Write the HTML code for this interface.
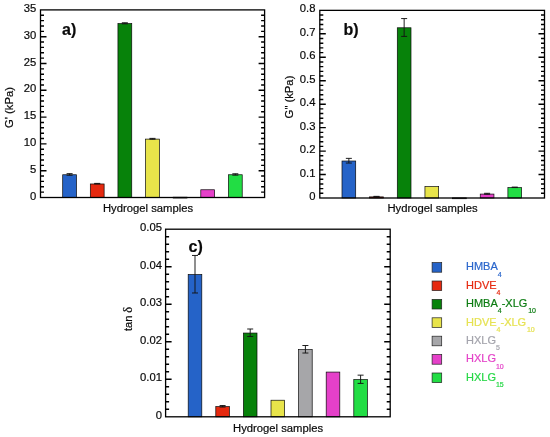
<!DOCTYPE html>
<html lang="en">
<head>
<meta charset="utf-8">
<title>Hydrogel samples</title>
<style>
html,body{margin:0;padding:0;background:#fff;}
body{width:550px;height:437px;overflow:hidden;}
svg{display:block;}
svg{font-family:"Liberation Sans", Arial, sans-serif;font-size:11.25px;}
text{fill:#0a0a0a;stroke:#0a0a0a;stroke-width:0.2px;}
</style>
</head>
<body>
<svg width="550" height="437" viewBox="0 0 550 437">
<rect width="550" height="437" fill="#fff"/>
<g>
<rect x="62.7" y="174.75" width="13.8" height="22.75" fill="#2563c8" stroke="#0a0a0a" stroke-width="0.7"/>
<path d="M69.6 173.65V175.26M66.6 173.65H72.6M66.6 175.26H72.6" stroke="#141414" stroke-width="0.95" fill="none"/>
<rect x="90.32" y="183.97" width="13.8" height="13.53" fill="#e5290f" stroke="#0a0a0a" stroke-width="0.7"/>
<path d="M97.22 183.4V183.94M94.22 183.4H100.22M94.22 183.94H100.22" stroke="#141414" stroke-width="0.95" fill="none"/>
<rect x="117.94" y="23.6" width="13.8" height="173.9" fill="#07820a" stroke="#0a0a0a" stroke-width="0.7"/>
<path d="M124.84 22.76V23.84M121.84 22.76H127.84M121.84 23.84H127.84" stroke="#141414" stroke-width="0.95" fill="none"/>
<rect x="145.56" y="139.11" width="13.8" height="58.39" fill="#e8e44a" stroke="#0a0a0a" stroke-width="0.7"/>
<path d="M152.46 138.38V139.24M149.46 138.38H155.46M149.46 139.24H155.46" stroke="#141414" stroke-width="0.95" fill="none"/>
<rect x="173.18" y="197.16" width="13.8" height="0.9" fill="#a6a6a9" stroke="#0a0a0a" stroke-width="0.7"/>
<rect x="200.8" y="189.76" width="13.8" height="7.74" fill="#e540c9" stroke="#0a0a0a" stroke-width="0.7"/>
<rect x="228.42" y="174.75" width="13.8" height="22.75" fill="#22dd44" stroke="#0a0a0a" stroke-width="0.7"/>
<path d="M235.32 173.76V175.15M232.32 173.76H238.32M232.32 175.15H238.32" stroke="#141414" stroke-width="0.95" fill="none"/>
<rect x="40.5" y="9.9" width="224.1" height="187.6" fill="none" stroke="#000" stroke-width="1.3"/>
<path d="M40.5 192.14h3.5M264.6 192.14h-3.5M40.5 186.78h3.5M264.6 186.78h-3.5M40.5 181.42h3.5M264.6 181.42h-3.5M40.5 176.06h3.5M264.6 176.06h-3.5M40.5 170.7h6M264.6 170.7h-6M40.5 165.34h3.5M264.6 165.34h-3.5M40.5 159.98h3.5M264.6 159.98h-3.5M40.5 154.62h3.5M264.6 154.62h-3.5M40.5 149.26h3.5M264.6 149.26h-3.5M40.5 143.9h6M264.6 143.9h-6M40.5 138.54h3.5M264.6 138.54h-3.5M40.5 133.18h3.5M264.6 133.18h-3.5M40.5 127.82h3.5M264.6 127.82h-3.5M40.5 122.46h3.5M264.6 122.46h-3.5M40.5 117.1h6M264.6 117.1h-6M40.5 111.74h3.5M264.6 111.74h-3.5M40.5 106.38h3.5M264.6 106.38h-3.5M40.5 101.02h3.5M264.6 101.02h-3.5M40.5 95.66h3.5M264.6 95.66h-3.5M40.5 90.3h6M264.6 90.3h-6M40.5 84.94h3.5M264.6 84.94h-3.5M40.5 79.58h3.5M264.6 79.58h-3.5M40.5 74.22h3.5M264.6 74.22h-3.5M40.5 68.86h3.5M264.6 68.86h-3.5M40.5 63.5h6M264.6 63.5h-6M40.5 58.14h3.5M264.6 58.14h-3.5M40.5 52.78h3.5M264.6 52.78h-3.5M40.5 47.42h3.5M264.6 47.42h-3.5M40.5 42.06h3.5M264.6 42.06h-3.5M40.5 36.7h6M264.6 36.7h-6M40.5 31.34h3.5M264.6 31.34h-3.5M40.5 25.98h3.5M264.6 25.98h-3.5M40.5 20.62h3.5M264.6 20.62h-3.5M40.5 15.26h3.5M264.6 15.26h-3.5" stroke="#000" stroke-width="1.4" fill="none"/>
<text x="36.2" y="199.5" text-anchor="end">0</text>
<text x="36.2" y="172.7" text-anchor="end">5</text>
<text x="36.2" y="145.9" text-anchor="end">10</text>
<text x="36.2" y="119.1" text-anchor="end">15</text>
<text x="36.2" y="92.3" text-anchor="end">20</text>
<text x="36.2" y="65.5" text-anchor="end">25</text>
<text x="36.2" y="38.7" text-anchor="end">30</text>
<text x="36.2" y="11.9" text-anchor="end">35</text>
<text transform="translate(12.5 107.5) rotate(-90)" text-anchor="middle">G' (kPa)</text>
<text x="103" y="212" font-size="11.25">Hydrogel samples</text>
<text x="62" y="34.6" font-size="16" font-weight="bold">a)</text>
</g>
<g>
<rect x="342" y="161.01" width="13.7" height="36.99" fill="#2563c8" stroke="#0a0a0a" stroke-width="0.7"/>
<path d="M348.85 158.36V163.05M345.85 158.36H351.85M345.85 163.05H351.85" stroke="#141414" stroke-width="0.95" fill="none"/>
<rect x="369.65" y="196.89" width="13.7" height="1.11" fill="#e5290f" stroke="#0a0a0a" stroke-width="0.7"/>
<path d="M376.5 196.36V196.83M373.5 196.36H379.5M373.5 196.83H379.5" stroke="#141414" stroke-width="0.95" fill="none"/>
<rect x="397.3" y="27.78" width="13.7" height="170.22" fill="#07820a" stroke="#0a0a0a" stroke-width="0.7"/>
<path d="M404.15 18.57V36.4M401.15 18.57H407.15M401.15 36.4H407.15" stroke="#141414" stroke-width="0.95" fill="none"/>
<rect x="424.95" y="186.57" width="13.7" height="11.43" fill="#e8e44a" stroke="#0a0a0a" stroke-width="0.7"/>
<rect x="452.6" y="197.83" width="13.7" height="0.9" fill="#a6a6a9" stroke="#0a0a0a" stroke-width="0.7"/>
<rect x="480.25" y="194.08" width="13.7" height="3.92" fill="#e540c9" stroke="#0a0a0a" stroke-width="0.7"/>
<path d="M487.1 193.31V194.25M484.1 193.31H490.1M484.1 194.25H490.1" stroke="#141414" stroke-width="0.95" fill="none"/>
<rect x="507.9" y="187.63" width="13.7" height="10.37" fill="#22dd44" stroke="#0a0a0a" stroke-width="0.7"/>
<path d="M514.75 187.09V187.56M511.75 187.09H517.75M511.75 187.56H517.75" stroke="#141414" stroke-width="0.95" fill="none"/>
<rect x="319.8" y="10.36" width="224.7" height="187.64" fill="none" stroke="#000" stroke-width="1.3"/>
<path d="M319.8 193.31h3.5M544.5 193.31h-3.5M319.8 188.62h3.5M544.5 188.62h-3.5M319.8 183.93h3.5M544.5 183.93h-3.5M319.8 179.24h3.5M544.5 179.24h-3.5M319.8 174.55h6M544.5 174.55h-6M319.8 169.85h3.5M544.5 169.85h-3.5M319.8 165.16h3.5M544.5 165.16h-3.5M319.8 160.47h3.5M544.5 160.47h-3.5M319.8 155.78h3.5M544.5 155.78h-3.5M319.8 151.09h6M544.5 151.09h-6M319.8 146.4h3.5M544.5 146.4h-3.5M319.8 141.71h3.5M544.5 141.71h-3.5M319.8 137.02h3.5M544.5 137.02h-3.5M319.8 132.33h3.5M544.5 132.33h-3.5M319.8 127.64h6M544.5 127.64h-6M319.8 122.94h3.5M544.5 122.94h-3.5M319.8 118.25h3.5M544.5 118.25h-3.5M319.8 113.56h3.5M544.5 113.56h-3.5M319.8 108.87h3.5M544.5 108.87h-3.5M319.8 104.18h6M544.5 104.18h-6M319.8 99.49h3.5M544.5 99.49h-3.5M319.8 94.8h3.5M544.5 94.8h-3.5M319.8 90.11h3.5M544.5 90.11h-3.5M319.8 85.42h3.5M544.5 85.42h-3.5M319.8 80.72h6M544.5 80.72h-6M319.8 76.03h3.5M544.5 76.03h-3.5M319.8 71.34h3.5M544.5 71.34h-3.5M319.8 66.65h3.5M544.5 66.65h-3.5M319.8 61.96h3.5M544.5 61.96h-3.5M319.8 57.27h6M544.5 57.27h-6M319.8 52.58h3.5M544.5 52.58h-3.5M319.8 47.89h3.5M544.5 47.89h-3.5M319.8 43.2h3.5M544.5 43.2h-3.5M319.8 38.51h3.5M544.5 38.51h-3.5M319.8 33.81h6M544.5 33.81h-6M319.8 29.12h3.5M544.5 29.12h-3.5M319.8 24.43h3.5M544.5 24.43h-3.5M319.8 19.74h3.5M544.5 19.74h-3.5M319.8 15.05h3.5M544.5 15.05h-3.5" stroke="#000" stroke-width="1.4" fill="none"/>
<text x="315.5" y="200" text-anchor="end">0</text>
<text x="315.5" y="176.55" text-anchor="end">0.1</text>
<text x="315.5" y="153.09" text-anchor="end">0.2</text>
<text x="315.5" y="129.63" text-anchor="end">0.3</text>
<text x="315.5" y="106.18" text-anchor="end">0.4</text>
<text x="315.5" y="82.73" text-anchor="end">0.5</text>
<text x="315.5" y="59.27" text-anchor="end">0.6</text>
<text x="315.5" y="35.81" text-anchor="end">0.7</text>
<text x="315.5" y="12.36" text-anchor="end">0.8</text>
<text transform="translate(292.5 97) rotate(-90)" text-anchor="middle">G" (kPa)</text>
<text x="387.5" y="212.4" font-size="11.25">Hydrogel samples</text>
<text x="343.5" y="35.2" font-size="16" font-weight="bold">b)</text>
</g>
<g>
<rect x="188.2" y="274.52" width="13.6" height="142.28" fill="#2563c8" stroke="#0a0a0a" stroke-width="0.7"/>
<path d="M195 255.46V292.98M192 255.46H198M192 292.98H198" stroke="#141414" stroke-width="0.95" fill="none"/>
<rect x="215.8" y="406.59" width="13.6" height="10.21" fill="#e5290f" stroke="#0a0a0a" stroke-width="0.7"/>
<path d="M222.6 405.54V407.04M219.6 405.54H225.6M219.6 407.04H225.6" stroke="#141414" stroke-width="0.95" fill="none"/>
<rect x="243.4" y="333.06" width="13.6" height="83.74" fill="#07820a" stroke="#0a0a0a" stroke-width="0.7"/>
<path d="M250.2 329V336.51M247.2 329H253.2M247.2 336.51H253.2" stroke="#141414" stroke-width="0.95" fill="none"/>
<rect x="271" y="400.22" width="13.6" height="16.58" fill="#e8e44a" stroke="#0a0a0a" stroke-width="0.7"/>
<rect x="298.6" y="349.56" width="13.6" height="67.24" fill="#a6a6a9" stroke="#0a0a0a" stroke-width="0.7"/>
<path d="M305.4 345.51V353.02M302.4 345.51H308.4M302.4 353.02H308.4" stroke="#141414" stroke-width="0.95" fill="none"/>
<rect x="326.2" y="372.08" width="13.6" height="44.72" fill="#e540c9" stroke="#0a0a0a" stroke-width="0.7"/>
<rect x="353.8" y="379.58" width="13.6" height="37.22" fill="#22dd44" stroke="#0a0a0a" stroke-width="0.7"/>
<path d="M360.6 375.15V383.41M357.6 375.15H363.6M357.6 383.41H363.6" stroke="#141414" stroke-width="0.95" fill="none"/>
<rect x="165.6" y="229.2" width="224.6" height="187.6" fill="none" stroke="#000" stroke-width="1.3"/>
<path d="M165.6 409.3h3.5M390.2 409.3h-3.5M165.6 401.79h3.5M390.2 401.79h-3.5M165.6 394.29h3.5M390.2 394.29h-3.5M165.6 386.78h3.5M390.2 386.78h-3.5M165.6 379.28h6M390.2 379.28h-6M165.6 371.78h3.5M390.2 371.78h-3.5M165.6 364.27h3.5M390.2 364.27h-3.5M165.6 356.77h3.5M390.2 356.77h-3.5M165.6 349.26h3.5M390.2 349.26h-3.5M165.6 341.76h6M390.2 341.76h-6M165.6 334.26h3.5M390.2 334.26h-3.5M165.6 326.75h3.5M390.2 326.75h-3.5M165.6 319.25h3.5M390.2 319.25h-3.5M165.6 311.74h3.5M390.2 311.74h-3.5M165.6 304.24h6M390.2 304.24h-6M165.6 296.74h3.5M390.2 296.74h-3.5M165.6 289.23h3.5M390.2 289.23h-3.5M165.6 281.73h3.5M390.2 281.73h-3.5M165.6 274.22h3.5M390.2 274.22h-3.5M165.6 266.72h6M390.2 266.72h-6M165.6 259.22h3.5M390.2 259.22h-3.5M165.6 251.71h3.5M390.2 251.71h-3.5M165.6 244.21h3.5M390.2 244.21h-3.5M165.6 236.7h3.5M390.2 236.7h-3.5" stroke="#000" stroke-width="1.4" fill="none"/>
<text x="162" y="418.8" text-anchor="end">0</text>
<text x="162" y="381.28" text-anchor="end">0.01</text>
<text x="162" y="343.76" text-anchor="end">0.02</text>
<text x="162" y="306.24" text-anchor="end">0.03</text>
<text x="162" y="268.72" text-anchor="end">0.04</text>
<text x="162" y="231.2" text-anchor="end">0.05</text>
<text transform="translate(132 319) rotate(-90)" text-anchor="middle">tan <tspan font-family="Liberation Serif, serif" font-size="12.5" dx="-0.5">δ</tspan></text>
<text x="233.1" y="432" font-size="11.25">Hydrogel samples</text>
<text x="188.5" y="252" font-size="16" font-weight="bold">c)</text>
</g>
<g>
<rect x="432.1" y="262.6" width="9.6" height="9.6" fill="#2563c8" stroke="#222" stroke-width="0.7"/>
<text x="466" y="270.2" font-size="11" style="fill:#2a66cc;stroke:#2a66cc">HMBA<tspan font-size="7" dy="6.3">4</tspan></text>
<rect x="432.1" y="281" width="9.6" height="9.6" fill="#e5290f" stroke="#222" stroke-width="0.7"/>
<text x="466" y="288.65" font-size="11" style="fill:#e62a10;stroke:#e62a10">HDVE<tspan font-size="7" dy="6.3">4</tspan></text>
<rect x="432.1" y="299.4" width="9.6" height="9.6" fill="#07820a" stroke="#222" stroke-width="0.7"/>
<text x="466" y="307.1" font-size="11" style="fill:#0c7c12;stroke:#0c7c12">HMBA<tspan font-size="7" dy="6.3">4</tspan><tspan dy="-6.3" font-size="11">-XLG</tspan><tspan font-size="7" dy="6.3" dx="0.8">10</tspan></text>
<rect x="432.1" y="317.8" width="9.6" height="9.6" fill="#e8e44a" stroke="#222" stroke-width="0.7"/>
<text x="466" y="325.55" font-size="11" style="fill:#e6e252;stroke:#e6e252">HDVE<tspan font-size="7" dy="6.3">4</tspan><tspan dy="-6.3" font-size="11">-XLG</tspan><tspan font-size="7" dy="6.3" dx="0.8">10</tspan></text>
<rect x="432.1" y="336.2" width="9.6" height="9.6" fill="#a6a6a9" stroke="#222" stroke-width="0.7"/>
<text x="466" y="344" font-size="11" style="fill:#a4a4ac;stroke:#a4a4ac">HXLG<tspan font-size="7" dy="6.3">5</tspan></text>
<rect x="432.1" y="354.6" width="9.6" height="9.6" fill="#e540c9" stroke="#222" stroke-width="0.7"/>
<text x="466" y="362.45" font-size="11" style="fill:#e442c8;stroke:#e442c8">HXLG<tspan font-size="7" dy="6.3">10</tspan></text>
<rect x="432.1" y="373" width="9.6" height="9.6" fill="#22dd44" stroke="#222" stroke-width="0.7"/>
<text x="466" y="380.9" font-size="11" style="fill:#26d846;stroke:#26d846">HXLG<tspan font-size="7" dy="6.3">15</tspan></text>
</g>
</svg>
</body>
</html>
